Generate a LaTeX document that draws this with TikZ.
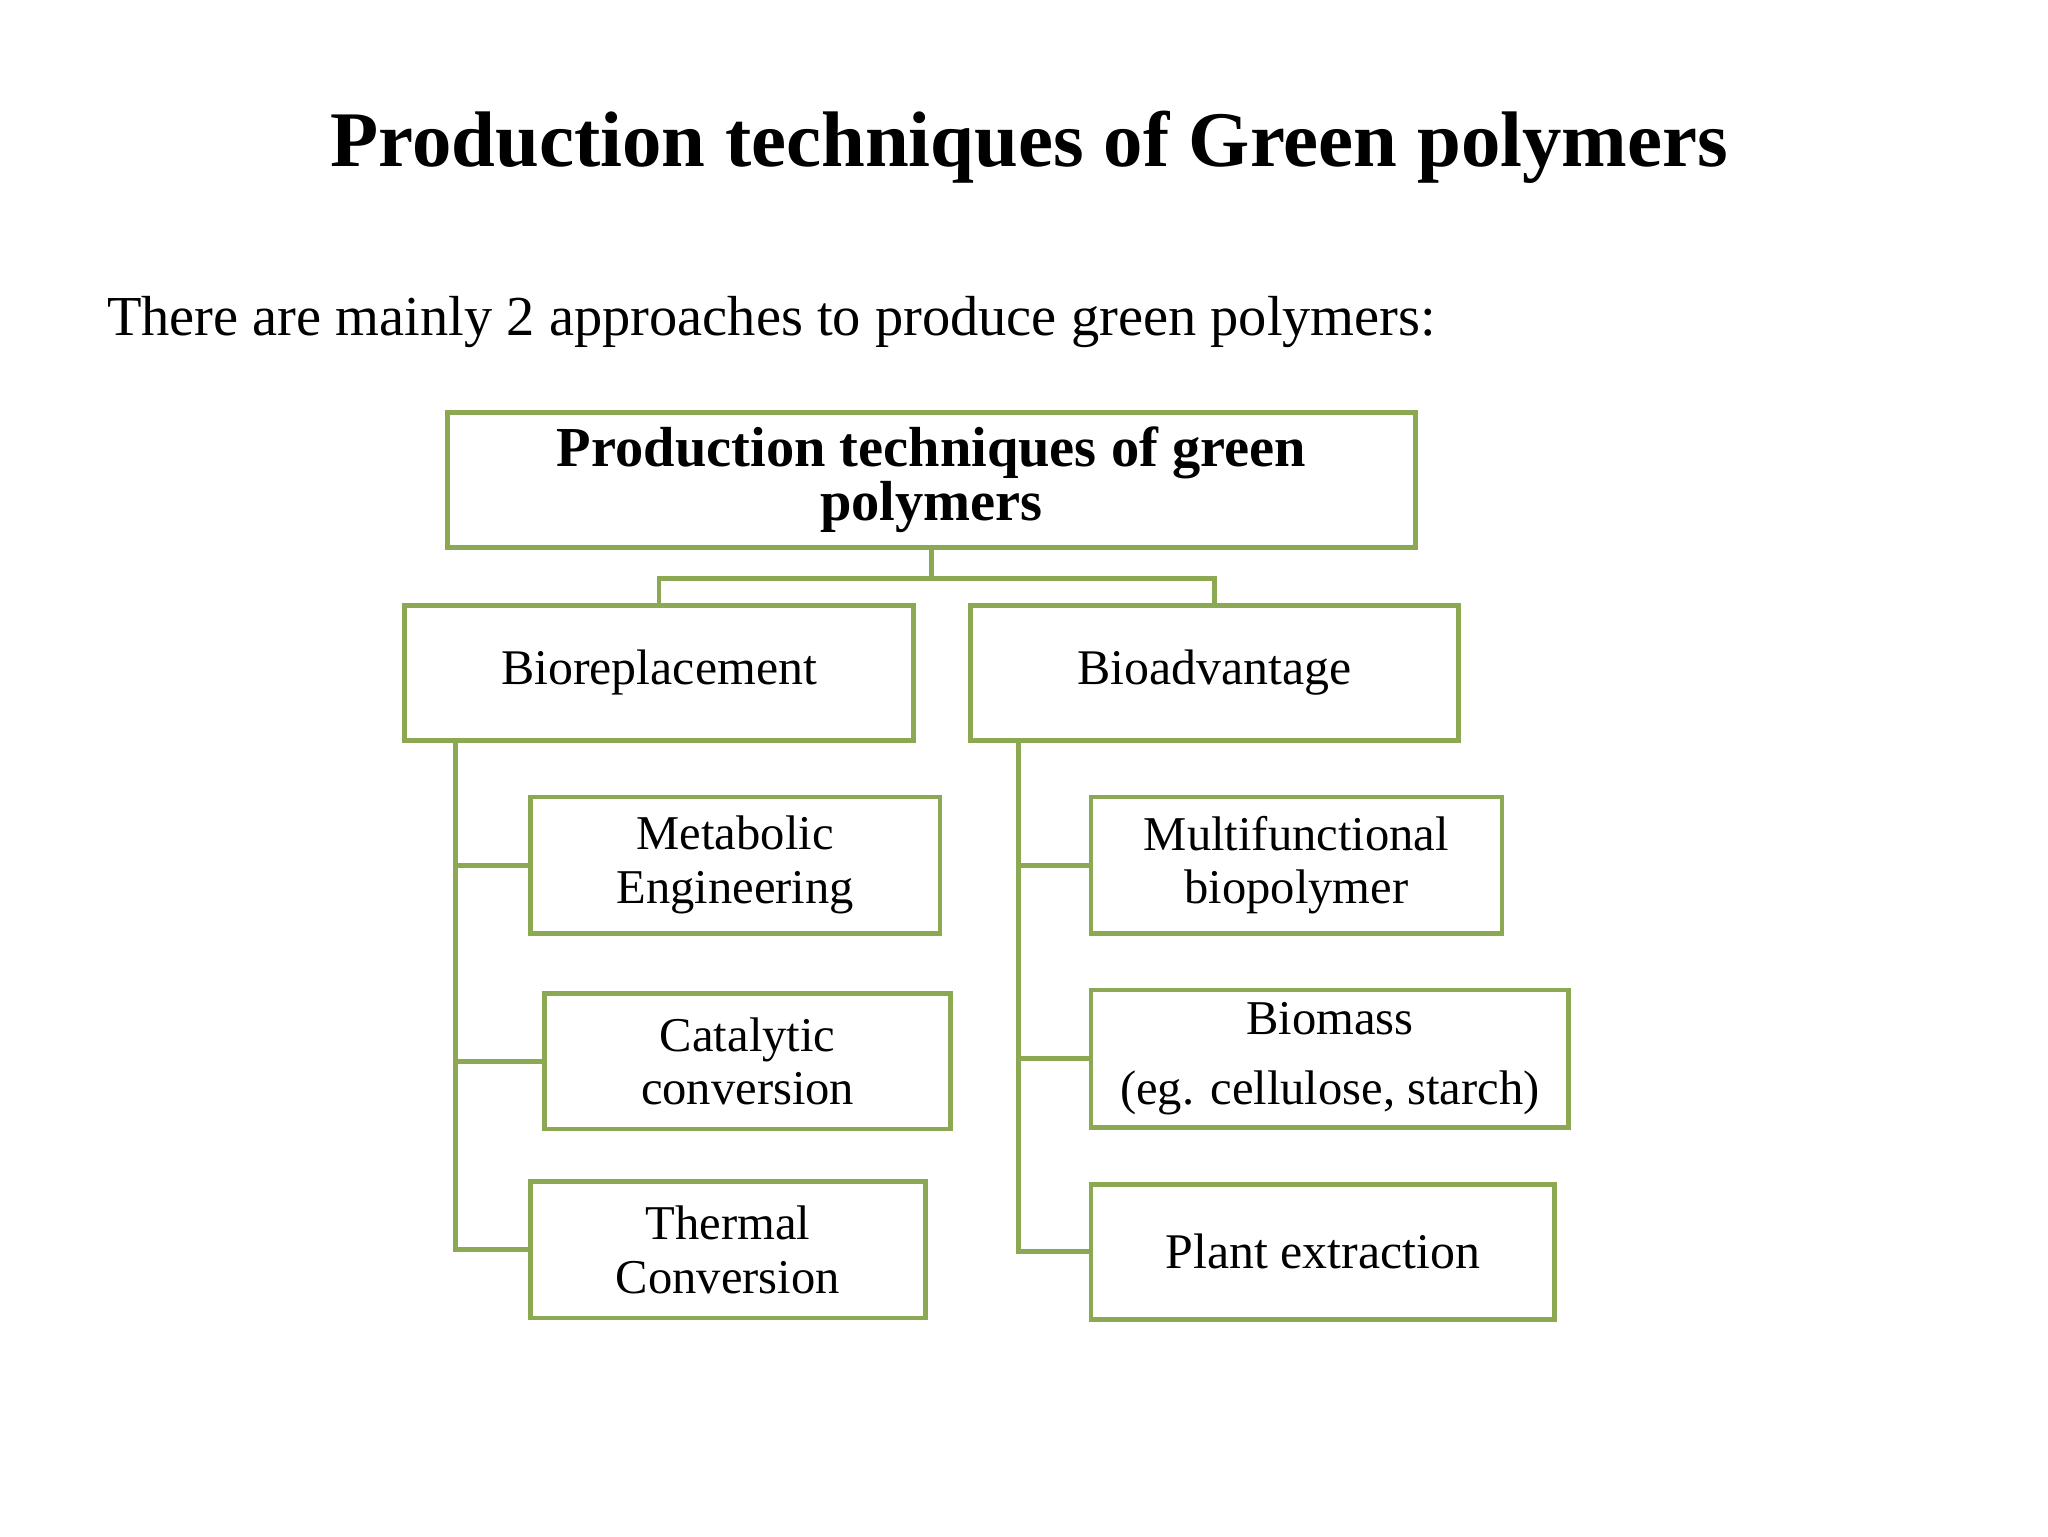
\documentclass[tikz,border=0pt]{standalone}
\usepackage{fontspec}
\setmainfont{Liberation Serif}
\definecolor{gr}{RGB}{140,168,82}
\begin{document}
\begin{tikzpicture}[x=1pt,y=-1pt,
  bx/.style={draw=gr,line width=3.6pt,fill=white,inner sep=0pt,align=center,font=\fontsize{37}{41}\selectfont},
  ln/.style={draw=gr,line width=3.6pt}]
\useasboundingbox (0,0) rectangle (1560,1170);
\node[font=\bfseries\fontsize{60}{66}\selectfont] (title) at (784,112) {Production techniques of Green polymers};
\node[anchor=west,font=\fontsize{43}{48}\selectfont] (intro) at (78,245) {There are mainly 2 approaches to produce green polymers:};
\newcommand{\bxat}[6]{\node[bx,minimum width={#4-#2},minimum height={#5-#3}] (#1) at ({(#2+#4)/2},{(#3+#5)/2}) {#6};}
\bxat{top}{341}{314}{1078}{417}{\bfseries\fontsize{43}{46}\selectfont Production techniques of green\\\bfseries\fontsize{43}{46}\selectfont polymers}
\bxat{bre}{308}{461}{696}{564}{\fontsize{38}{42}\selectfont Bioreplacement}
\bxat{bad}{739}{461}{1111}{564}{\fontsize{38}{42}\selectfont Bioadvantage}
\bxat{met}{404}{607}{716}{711}{Metabolic\\Engineering}
\bxat{cat}{415}{757}{724}{860}{Catalytic\\conversion}
\bxat{the}{404}{900}{705}{1004}{Thermal\\Conversion}
\bxat{mul}{831}{607}{1144}{711}{Multifunctional\\biopolymer}
\bxat{bio}{831}{754}{1195}{859}{Biomass\\[12pt](eg. cellulose, starch)}
\bxat{pla}{831}{902}{1184}{1005}{\fontsize{38}{42}\selectfont Plant extraction}
\draw[ln] (top.south) -- ++(0,22) -| (bre.north);
\draw[ln] (top.south) ++(0,22) -| (bad.north);
\coordinate (lt) at (347,564);
\coordinate (rt) at (776,564);
\draw[ln] (lt) |- (the.west);
\draw[ln] (lt |- met.west) -- (met.west);
\draw[ln] (lt |- cat.west) -- (cat.west);
\draw[ln] (rt) |- (pla.west);
\draw[ln] (rt |- mul.west) -- (mul.west);
\draw[ln] (rt |- bio.west) -- (bio.west);
\end{tikzpicture}
\end{document}
